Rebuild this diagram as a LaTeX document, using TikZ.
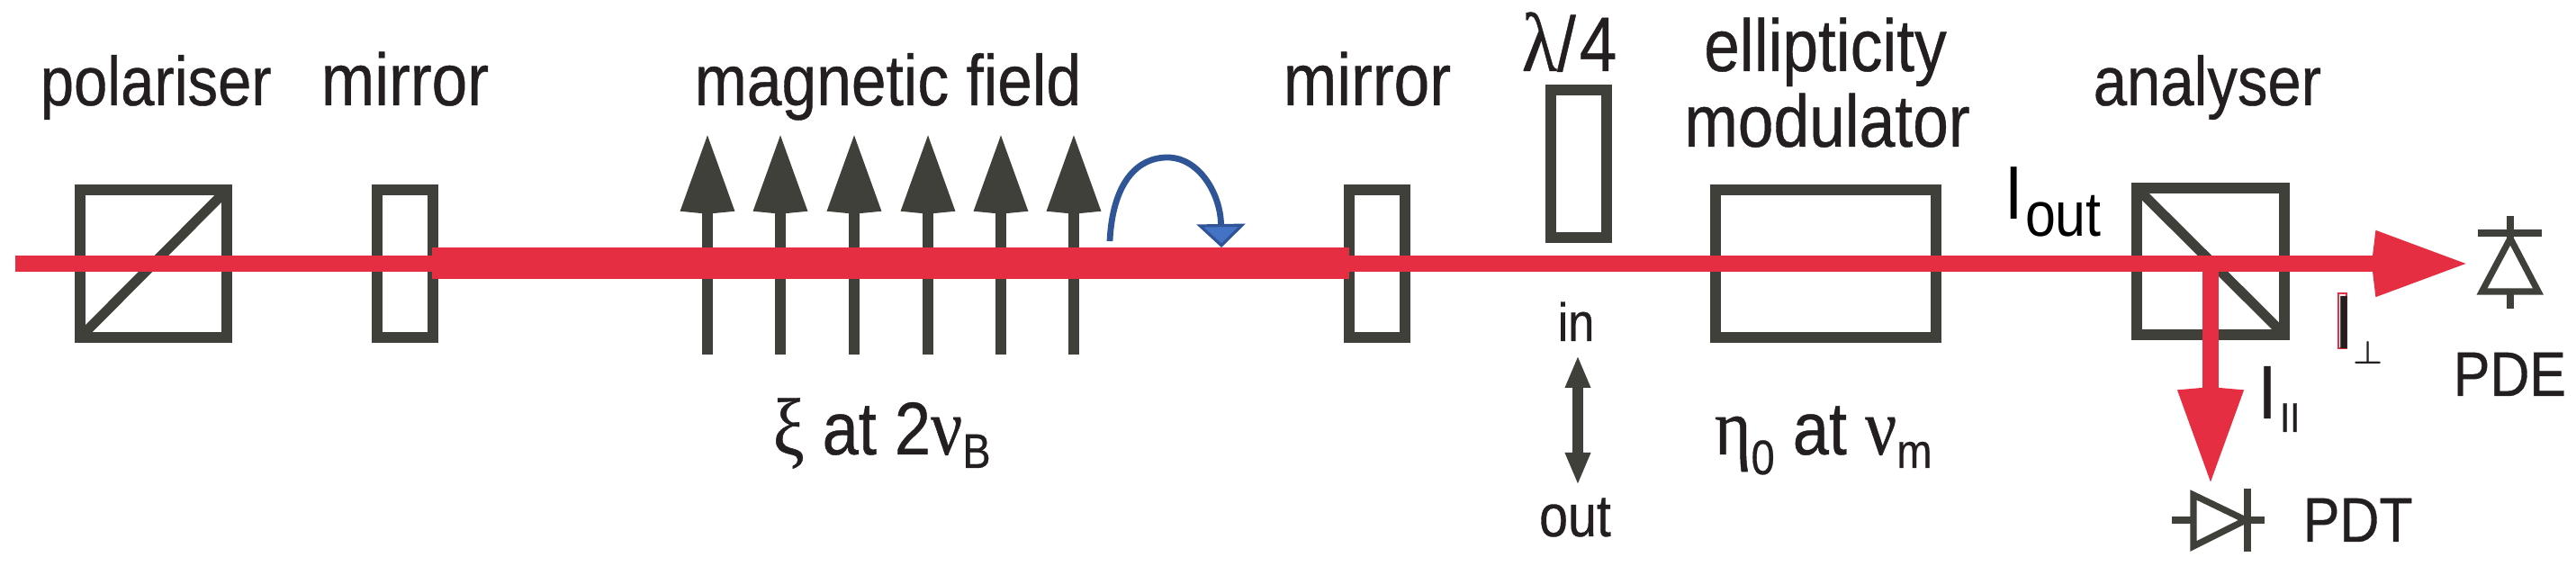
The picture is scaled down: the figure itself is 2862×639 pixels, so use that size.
\documentclass[tikz,border=0pt]{standalone}
\usepackage{fontspec}
\setmainfont{Liberation Sans}[FakeStretch=0.87,FakeBold=0.5]
\newfontfamily\plainfont{Liberation Sans}[FakeStretch=0.87]
\newfontfamily\greekfont{Liberation Serif}[FakeStretch=0.87,FakeBold=0.5,Scale=1.08]
\usetikzlibrary{arrows.meta}
\definecolor{boxgrey}{RGB}{63,64,58}
\definecolor{inkgrey}{RGB}{35,31,32}
\definecolor{beamred}{RGB}{230,46,66}
\definecolor{arcline}{RGB}{47,85,151}
\definecolor{arcfill}{RGB}{68,114,196}
\tikzset{
  optic/.style={draw=boxgrey,line width=3pt,inner sep=0pt,outer sep=0pt},
  split/.style={draw=boxgrey,line width=2.75pt},
  label/.style={anchor=base west,inner sep=0pt,text=inkgrey,font=\fontsize{19.25}{22}\selectfont},
  widelabel/.style={label,font=\fontsize{20.5}{24}\selectfont},
  ratelabel/.style={label,font=\fontsize{20.75}{24}\selectfont},
  smalllabel/.style={label,font=\fontsize{16.5}{20}\selectfont},
  thinbeam/.style={draw=beamred,line width=4.5pt},
  fieldline/.style={draw=boxgrey,line width=3.2pt,-{Stealth[length=21pt,width=14pt,inset=-1.2pt,fill=boxgrey]}},
  travel/.style={draw=boxgrey,line width=3pt,{Stealth[length=9pt,width=6.5pt,inset=0pt]}-{Stealth[length=9pt,width=6.5pt,inset=0pt]}},
  diode/.style={draw=boxgrey,line width=1.8pt},
}
\newcommand{\sub}[2]{\raisebox{#1}{\fontsize{13.5}{15}\selectfont #2}}
\begin{document}
\begin{tikzpicture}[x=0.25pt,y=0.25pt,yscale=-1,xscale=1]
\useasboundingbox (0,0) rectangle (2862,639);

%Optical elements
\node (polariser) [optic,minimum width=40.75pt,minimum height=41pt] at (170.5,293) {};
\node (mirrorin) [optic,minimum width=15.5pt,minimum height=41pt] at (450,293) {};
\node (mirrorout) [optic,minimum width=15.5pt,minimum height=41pt] at (1529.5,293) {};
\node (waveplate) [optic,minimum width=15.5pt,minimum height=41pt] at (1753.5,182) {};
\node (modulator) [optic,minimum width=61.25pt,minimum height=41pt] at (2028.5,293) {};
\node (analyser) [optic,minimum width=41pt,minimum height=40.75pt] at (2456,290.5) {};
\draw [split] (polariser.south west) -- (polariser.north east);
\draw [split] (analyser.north west) -- (analyser.south east);

%Magnetic field
\foreach \x in {786,867,949,1031,1112,1193}
  \draw [fieldline] (\x,394) -- (\x,149);

%Beams
\coordinate (beamstart) at (17,293);
\coordinate (thickstart) at (480,293);
\coordinate (thickend) at (1499,293);
\coordinate (splitpoint) at (2456,293);
\coordinate (pdeend) at (2742,293);
\coordinate (pdtend) at (2456,538);
\draw [thinbeam,-{Stealth[length=25pt,width=16.75pt,inset=-1.8pt,fill=beamred]}] (beamstart) -- (pdeend);
\draw [thinbeam,-{Stealth[length=25.5pt,width=16.75pt,inset=-1.5pt,fill=beamred]}] (splitpoint) -- (pdtend);
\draw [draw=beamred,line width=8.75pt] (thickstart) -- (thickend);

%Rotation
\coordinate (arcstart) at (1233,268);
\coordinate (arcend) at (1357,275);
\draw [draw=arcline,line width=1.7pt,-{Triangle[length=6.5pt,width=13.5pt,fill=arcfill,line width=0.8pt]}] (arcstart) .. controls (1236,205) and (1262,175) .. (1297,175) .. controls (1332,175) and (1356,215) .. (arcend);

%Moving the plate
\coordinate (travelin) at (1753,395);
\coordinate (travelout) at (1753,539);
\draw [travel] (travelin) -- (travelout);

%Detector PDE
\draw [diode] (2789,265) -- (2757.5,324) -- (2820,324) -- cycle;
\draw [diode] (2753,259) -- (2824,259);
\draw [diode] (2789,240) -- (2789,265);
\draw [diode] (2789,324) -- (2789,343);
%Detector PDT
\draw [diode] (2495,578) -- (2437,550) -- (2437,607) -- cycle;
\draw [diode] (2497,543) -- (2497,613);
\draw [diode] (2413,578) -- (2437,578);
\draw [diode] (2497,578) -- (2516,578);

%Edge of the I
\draw [draw=beamred,line width=0.3pt] (2598,326) rectangle (2607,387);

% Text Node
\node (polariserlabel) [label] at (44,117) {polariser};
\node (mirrorinlabel) [widelabel] at (356,117) {mirror};
\node (fieldlabel) [label,font=\fontsize{20}{24}\selectfont] at (771,117) {magnetic field};
\node (mirroroutlabel) [widelabel] at (1425,117) {mirror};
\node (waveplatelabel) [label,font=\fontsize{21.5}{24}\selectfont] at (1690,79) {{\greekfont λ}/\hspace{1pt}4};
\node (ellipticitylabel) [widelabel,anchor=base] at (2028,79) {ellipticity};
\node (modulatorlabel) [widelabel,anchor=base] at (2030,163) {modulator};
\node (analyserlabel) [label] at (2325,117) {analyser};
\node (xilabel) [ratelabel] at (858,505) {{\greekfont ξ} at 2{\greekfont ν}\sub{-3.75pt}{B}};
\node (etalabel) [ratelabel] at (1904,505) {{\greekfont η}\sub{-5.5pt}{0} at {\greekfont ν}\sub{-3.75pt}{m}};
\node (inlabel) [label,anchor=base,font=\fontsize{15}{18}\selectfont] at (1751,379) {in};
\node (outlabel) [smalllabel,anchor=base] at (1750,596) {out};
\node (ioutlabel) [label,text=black,font=\plainfont\fontsize{21}{24}\selectfont] at (2227,244) {I\hspace{0.5pt}\raisebox{-4.75pt}{\fontsize{17.5}{20}\selectfont out}};
\node (iperplabel) [label,font=\fontsize{21}{24}\selectfont] at (2593,387) {I\raisebox{-4.5pt}{\fontsize{9}{10}\selectfont\boldmath$\perp$}};
\node (iparlabel) [label,font=\fontsize{21}{24}\selectfont] at (2508,465) {I\hspace{1pt}\raisebox{-3.75pt}{\fontsize{11.5}{13}\selectfont II}};
\node (pdelabel) [label,font=\fontsize{17.5}{20}\selectfont] at (2725,440) {PDE};
\node (pdtlabel) [label,font=\fontsize{17.5}{20}\selectfont] at (2558,602) {PDT};

\end{tikzpicture}
\end{document}
